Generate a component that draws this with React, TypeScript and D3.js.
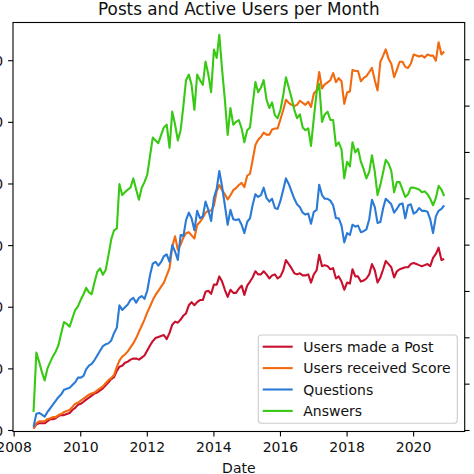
import * as d3 from "d3";

// monthly series, Aug 2008 .. Dec 2020
const firstMonth = new Date(2008, 7, 1);
const endMonth = new Date(2021, 0, 1);

// left axis (users)
const usersMadePost = [
  2, 6, 7, 7, 7, 9, 11, 11, 12, 14,
  15, 15, 16, 17, 20, 22, 25, 26, 28, 30,
  32, 34, 36, 37, 39, 41, 44, 47, 50, 52,
  58, 62, 63, 66, 67, 69, 70, 70, 69, 71,
  73, 78, 83, 87, 90, 91, 92, 93, 89, 95,
  103, 106, 105, 108, 112, 114, 122, 125, 122, 125,
  127, 127, 135, 136, 133, 142, 142, 150, 145, 137,
  130, 137, 134, 134, 138, 141, 132, 141, 145, 149,
  155, 152, 152, 155, 152, 148, 151, 152, 148, 150,
  156, 166, 162, 158, 153, 152, 153, 151, 151, 152,
  144, 152, 156, 171, 160, 161, 160, 157, 158, 148,
  150, 145, 137, 144, 143, 157, 150, 150, 145, 146,
  148, 152, 162, 156, 144, 149, 157, 165, 162, 159,
  149, 155, 157, 158, 159, 159, 162, 163, 162, 161,
  160, 161, 162, 160, 168, 172, 178, 166, 167,
];
const usersReceivedScore = [
  2, 7, 9, 9, 9, 11, 12, 13, 13, 15,
  16, 18, 19, 20, 23, 26, 27, 29, 31, 33,
  35, 36, 37, 39, 41, 43, 46, 49, 51, 54,
  62, 68, 72, 74, 77, 81, 85, 90, 96, 102,
  108, 115, 121, 127, 132, 136, 140, 144, 151, 158,
  179, 189, 176, 181, 188, 192, 193, 190, 187, 200,
  203, 207, 212, 214, 214, 219, 233, 239, 234, 230,
  225, 229, 234, 236, 239, 241, 237, 248, 250, 263,
  278, 283, 286, 290, 288, 288, 293, 294, 294, 303,
  312, 322, 319, 317, 316, 317, 321, 319, 317, 320,
  315, 328, 331, 349, 333, 337, 339, 341, 348, 339,
  343, 340, 318, 329, 330, 351, 350, 350, 340, 343,
  345, 349, 353, 341, 331, 359, 365, 371, 362, 357,
  344, 351, 359, 359, 354, 353, 357, 366, 365, 364,
  365, 363, 366, 365, 365, 360, 378, 366, 369,
];
// right axis (posts)
const questions = [
  4, 18, 19, 17, 15, 20, 24, 28, 32, 36,
  39, 44, 45, 46, 49, 52, 57, 57, 59, 66,
  70, 72, 76, 81, 86, 91, 93, 94, 97, 105,
  111, 135, 130, 133, 136, 141, 143, 138, 143, 145,
  142, 151, 168, 180, 182, 178, 182, 188, 190, 182,
  200, 193, 184, 211, 210, 227, 235, 229, 216, 237,
  229, 231, 247, 238, 226, 251, 261, 280, 263, 243,
  222, 238, 228, 227, 228, 222, 213, 225, 229, 243,
  255, 252, 254, 262, 251, 247, 250, 240, 239, 248,
  260, 272, 266, 258, 250, 244, 241, 235, 233, 234,
  223, 236, 238, 265, 254, 250, 250, 248, 243, 229,
  229, 221, 203, 213, 211, 222, 220, 221, 214, 215,
  217, 228, 249, 241, 224, 225, 240, 250, 247, 244,
  235, 239, 244, 245, 229, 243, 244, 234, 236, 240,
  237, 237, 236, 228, 213, 231, 237, 239, 243,
];
const answers = [
  20, 84, 74, 63, 54, 67, 74, 80, 85, 92,
  105, 117, 115, 112, 121, 130, 134, 141, 147, 154,
  149, 147, 160, 171, 175, 168, 173, 189, 206, 216,
  218, 266, 254, 257, 260, 262, 272, 260, 249, 262,
  268, 276, 297, 316, 313, 310, 319, 327, 330, 305,
  344, 330, 313, 324, 351, 378, 384, 373, 346, 384,
  378, 373, 398, 384, 365, 411, 402, 427, 389, 357,
  319, 348, 330, 333, 335, 326, 311, 324, 327, 351,
  376, 365, 370, 378, 357, 348, 354, 340, 337, 346,
  362, 381, 370, 359, 346, 337, 341, 327, 324, 326,
  307, 337, 365, 374, 333, 341, 344, 335, 335, 307,
  311, 303, 272, 290, 285, 311, 300, 304, 290, 282,
  272, 279, 297, 279, 254, 265, 279, 292, 288, 280,
  257, 268, 268, 260, 252, 255, 262, 262, 261, 260,
  257, 258, 255, 250, 243, 251, 264, 260, 253,
];

const leftTicks = [0, 60, 120, 180, 240, 300, 360];
const rightTicks = [0, 50, 100, 150, 200, 250, 300, 350, 400];
const yearTicks = [2008, 2010, 2012, 2014, 2016, 2018, 2020];

const seriesNames = ["Users made a Post", "Users received Score", "Questions", "Answers"];
const seriesColors = ["#c8102e", "#f26a10", "#2a7ad6", "#38c914"];

const W = 474;
const H = 474;
const plot = { left: 13, right: 464.7, top: 22.5, bottom: 431.5 };
const font = "DejaVu Sans, sans-serif";

export default function App() {
  const months = d3.timeMonth.range(firstMonth, endMonth);

  // matplotlib-style 5% margin on time axis
  const t0 = months[0].getTime();
  const t1 = months[months.length - 1].getTime();
  const pad = (t1 - t0) * 0.05;
  const x = d3
    .scaleTime()
    .domain([new Date(t0 - pad), new Date(t1 + pad)])
    .range([plot.left, plot.right]);

  const yLeft = d3.scaleLinear().domain([-0.97, 397.2]).range([plot.bottom, plot.top]);
  const yRight = d3.scaleLinear().domain([-1.08, 440.2]).range([plot.bottom, plot.top]);

  const lineFor = (y: d3.ScaleLinear<number, number>) =>
    d3
      .line<number>()
      .x((_, i) => x(months[i]))
      .y((d) => y(d));

  const series = [
    { values: usersMadePost, y: yLeft },
    { values: usersReceivedScore, y: yLeft },
    { values: questions, y: yRight },
    { values: answers, y: yRight },
  ];

  const legend = { x: 258.3, y: 335, w: 199, h: 88.3, row: 21.4 };

  return (
    <svg
      width={W}
      height={H}
      style={{ position: "fixed", left: 0, top: 0, background: "#fff" }}
      fontFamily={font}
    >
      <text x={(plot.left + plot.right) / 2} y={15.3} fontSize={16.8} textAnchor="middle" fill="#111">
        Posts and Active Users per Month
      </text>

      {series.map((s, k) => (
        <path
          key={k}
          d={lineFor(s.y)(s.values) || undefined}
          fill="none"
          stroke={seriesColors[k]}
          strokeWidth={2.1}
          strokeLinejoin="round"
        />
      ))}

      <rect
        x={plot.left}
        y={plot.top}
        width={plot.right - plot.left}
        height={plot.bottom - plot.top}
        fill="none"
        stroke="#000"
        strokeWidth={1.1}
      />

      {/* left tick labels run off the image edge, as in the cropped original */}
      {leftTicks.map((t) => (
        <g key={"l" + t}>
          <line x1={plot.left} x2={plot.left - 4.9} y1={yLeft(t)} y2={yLeft(t)} stroke="#000" strokeWidth={1.1} />
          <text x={plot.left - 9.8} y={yLeft(t)} dy="0.36em" fontSize={14} textAnchor="end" fill="#111">
            {t}
          </text>
        </g>
      ))}
      {rightTicks.map((t) => (
        <line
          key={"r" + t}
          x1={plot.right}
          x2={plot.right + 4.9}
          y1={yRight(t)}
          y2={yRight(t)}
          stroke="#000"
          strokeWidth={1.1}
        />
      ))}
      {yearTicks.map((yr) => {
        const px = x(new Date(yr, 0, 1));
        return (
          <g key={"x" + yr}>
            <line x1={px} x2={px} y1={plot.bottom} y2={plot.bottom + 4.9} stroke="#000" strokeWidth={1.1} />
            <text x={px} y={451.5} fontSize={14} textAnchor="middle" fill="#111">
              {yr}
            </text>
          </g>
        );
      })}
      <text x={(plot.left + plot.right) / 2} y={472.5} fontSize={14} textAnchor="middle" fill="#111">
        Date
      </text>

      <g>
        <rect
          x={legend.x}
          y={legend.y}
          width={legend.w}
          height={legend.h}
          rx={3}
          fill="#fff"
          fillOpacity={0.8}
          stroke="#cccccc"
          strokeWidth={1.1}
        />
        {seriesNames.map((name, k) => {
          const cy = legend.y + 11.7 + k * legend.row;
          return (
            <g key={name}>
              <line x1={legend.x + 4.4} x2={legend.x + 34.4} y1={cy} y2={cy} stroke={seriesColors[k]} strokeWidth={2.1} />
              <text x={legend.x + 45} y={cy} dy="0.36em" fontSize={14} fill="#111">
                {name}
              </text>
            </g>
          );
        })}
      </g>
    </svg>
  );
}
